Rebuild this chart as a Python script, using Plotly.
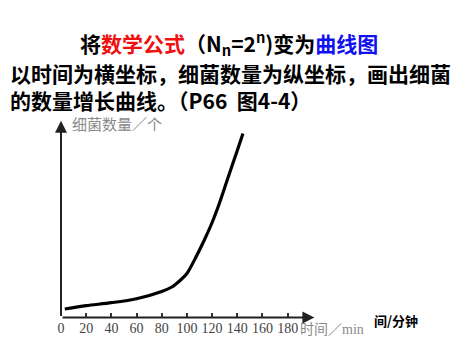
import plotly.graph_objects as go

# data
time_min = [3, 20, 40, 60, 80, 88, 95, 100, 107, 114, 120, 126, 132, 140, 144.5]
bacteria_count = [8.5, 11.8, 14.8, 18.8, 26, 30.5, 37.5, 44, 60, 78, 95, 115, 137.5, 167, 184]
x_tick_vals = [0, 20, 40, 60, 80, 100, 120, 140, 160, 180]
x_tick_text = [str(v) for v in x_tick_vals]
title_line1 = "将<span style='color:#f01010'>数学公式</span>（N<sub>n</sub>=2<sup>n</sup>)变为<span style='color:#1010f0'>曲线图</span>"
title_line2 = "以时间为横坐标，细菌数量为纵坐标，画出细菌"
title_line3 = "的数量增长曲线。（P66  图4-4）"
y_label = "细菌数量／个"
x_label = "时间／min"
x_label2 = "间/分钟"

W, H = 474, 355
X_MAX, Y_MAX = 201.2, 196.8

def px(x):
    return x / W

def py(y):
    return 1 - y / H

fig = go.Figure()
fig.add_trace(go.Scatter(
    x=time_min, y=bacteria_count, mode="lines",
    line=dict(color="black", width=3.2, shape="spline", smoothing=0.8),
    hoverinfo="skip", showlegend=False,
))

CJK_BOLD = "Noto Sans CJK SC"
SERIF = "Liberation Serif, Noto Sans CJK SC"

annotations = [
    dict(text="<b>" + title_line1 + "</b>", x=px(227), y=py(43), xref="paper", yref="paper",
         showarrow=False, xanchor="center", yanchor="middle",
         font=dict(family=CJK_BOLD, size=21, color="black")),
    dict(text="<b>" + title_line2 + "<br>" + title_line3 + "</b>", x=px(4), y=py(86),
         xref="paper", yref="paper", showarrow=False, xanchor="left", yanchor="middle",
         align="left", font=dict(family=CJK_BOLD, size=21, color="black")),
    dict(text=y_label, x=px(67), y=py(125), xref="paper", yref="paper",
         showarrow=False, xanchor="left", yanchor="middle",
         font=dict(family=SERIF, size=15, color="#8a8a8a")),
    dict(text=x_label, x=px(297), y=py(329), xref="paper", yref="paper",
         showarrow=False, xanchor="left", yanchor="middle",
         font=dict(family=SERIF, size=14, color="#8a8a8a")),
    dict(text="<b>" + x_label2 + "</b>", x=px(371), y=py(320), xref="paper", yref="paper",
         showarrow=False, xanchor="left", yanchor="middle",
         font=dict(family=CJK_BOLD, size=13, color="black")),
    # axis arrows
    dict(x=X_MAX, y=0, ax=0, ay=0, xref="x", yref="y", axref="x", ayref="y",
         showarrow=True, arrowhead=2, arrowsize=1.2, arrowwidth=2, arrowcolor="#222", text=""),
    dict(x=0, y=Y_MAX, ax=0, ay=0, xref="x", yref="y", axref="x", ayref="y",
         showarrow=True, arrowhead=2, arrowsize=1.2, arrowwidth=2, arrowcolor="#222", text=""),
]

fig.update_layout(
    width=W, height=H,
    margin=dict(l=0, r=0, t=0, b=0),
    paper_bgcolor="white", plot_bgcolor="white",
    annotations=annotations,
    xaxis=dict(domain=[px(57.5), px(313)], range=[0, X_MAX], showgrid=False, zeroline=False,
               showline=False, tickvals=x_tick_vals, ticktext=x_tick_text,
               ticks="inside", ticklen=5, tickwidth=1.5, tickcolor="#333",
               tickfont=dict(family=SERIF, size=14, color="#444"), fixedrange=True),
    yaxis=dict(domain=[1 - 317.5 / H, 1 - 120.7 / H], range=[0, Y_MAX], showgrid=False,
               zeroline=False, showline=False, showticklabels=False, ticks="", fixedrange=True),
)

fig.write_html("out.html", config={"displayModeBar": False},
               post_script="document.body.style.margin='0';document.body.style.overflow='hidden';")
